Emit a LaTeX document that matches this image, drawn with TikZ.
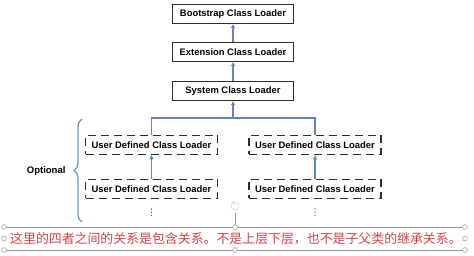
\documentclass[tikz,border=0pt]{standalone}
\usepackage{amssymb}
\usepackage{fontspec}
\setmainfont{Liberation Sans}
\newfontfamily\cjk{Noto Sans CJK SC}
\newfontfamily\symfont{DejaVu Sans}
\usepackage{xcolor}
\usetikzlibrary{arrows.meta,decorations.pathreplacing}
\definecolor{linkblue}{RGB}{95,135,190}
\definecolor{boxgray}{RGB}{45,45,45}
\definecolor{notered}{RGB}{215,65,65}
\definecolor{handlegray}{RGB}{150,150,150}

\tikzset{
    loaderbox/.style={draw=boxgray, line width=1.4pt, minimum width=121pt, minimum height=19pt, inner sep=0pt, font=\bfseries\fontsize{9.4}{10}\selectfont},
    userbox/.style={loaderbox, minimum width=132pt, dash pattern=on 8pt off 5pt, line width=1.7pt},
    link/.style={draw=linkblue, line width=1.3pt},
    uplink/.style={link, -{Triangle[length=4pt,width=4pt]}},
    handle/.style={draw=handlegray, fill=white, line width=0.5pt},
    moredots/.style={font=\symfont\fontsize{9}{9}\selectfont, text=boxgray, inner sep=0pt}
}

\begin{document}
\begin{tikzpicture}[x=1pt,y=-1pt]
    \useasboundingbox (0,0) rectangle (474,256);

    % built-in loaders
    \node[loaderbox] (boot) at (233,14) {Bootstrap Class Loader};
    \node[loaderbox] (ext) at (233,52) {Extension Class Loader};
    \node[loaderbox] (sys) at (233,91) {System Class Loader};

    % user defined loaders
    \node[userbox] (ud1a) at (151.5,145) {User Defined Class Loader};
    \node[userbox] (ud1b) at (151.5,189) {User Defined Class Loader};
    \node[userbox] (ud2a) at (315,145) {User Defined Class Loader};
    \node[userbox] (ud2b) at (315,189) {User Defined Class Loader};
    \node[moredots] (dots1) at (151.5,213) {⋮};
    \node[moredots] (dots2) at (315,213) {⋮};
    \coordinate (join) at (233,118);

    % connections
    \draw[uplink] (ext) -- (boot);
    \draw[uplink] (sys) -- (ext);
    \draw[uplink] (join) -- (sys);
    \draw[link] (ud1a.north) |- (join) -| (ud2a.north);
    \draw[uplink] (ud1b) -- (ud1a);
    \draw[uplink] (ud2b) -- (ud2a);

    % optional brace
    \coordinate (bracetop) at (82,119);
    \coordinate (bracebot) at (82,222);
    \draw[draw=linkblue!90, line width=1.3pt, decorate, decoration={brace, mirror, amplitude=8pt}] (bracetop) -- (bracebot);
    \node[font=\bfseries\fontsize{9.5}{10}\selectfont, anchor=east] (opt) at (69,171) {Optional};

    % selected text box
    \draw[handlegray, line width=0.5pt] (4,227) -- (465,227) (4,250) -- (465,250);
    \draw[handlegray, line width=0.5pt] (235,213) -- (235,227);
    \node[font=\fontsize{12}{12}\selectfont, text=handlegray, inner sep=0pt] (rot) at (235,207) {$\circlearrowright$};
    \foreach \hx in {4,235,465} {
        \foreach \hy in {227,250} {
            \draw[handle] (\hx,\hy) circle (2.4pt);
        }
    }
    \foreach \hx in {4,465} {
        \draw[handle] (\hx,238.5) circle (2.4pt);
    }
    \node[font=\cjk\fontsize{12.9}{13}\selectfont, text=notered, anchor=west, inner sep=0pt] (note) at (10,238.5) {这里的四者之间的关系是包含关系。不是上层下层，也不是子父类的继承关系。};
\end{tikzpicture}
\end{document}
